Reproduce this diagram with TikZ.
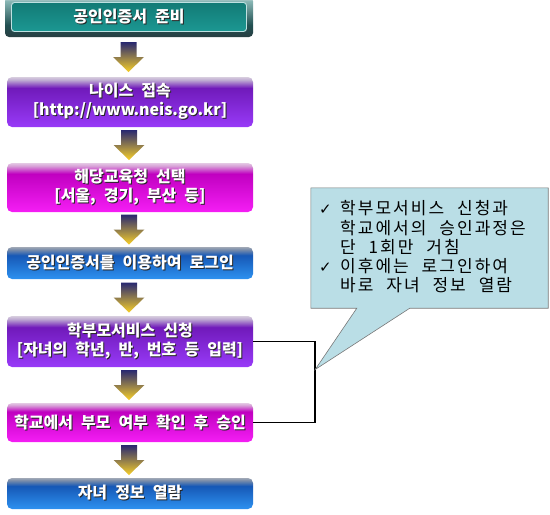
\documentclass[tikz,border=0pt]{standalone}
\usepackage{fontspec}
\setmainfont{Noto Sans CJK KR}
\newfontfamily\kb{Noto Sans CJK KR}[WordSpace=2.2]
\newfontfamily\kn{Noto Sans CJK KR}[LetterSpace=12,WordSpace=2.2]
\newfontfamily\dejav{DejaVu Sans}
\usetikzlibrary{calc}

\definecolor{pT}{RGB}{215,205,222}
\definecolor{pL}{RGB}{190,170,210}
\definecolor{pD}{RGB}{112,26,186}
\definecolor{pB}{RGB}{152,58,248}
\definecolor{mT}{RGB}{228,200,228}
\definecolor{mL}{RGB}{215,160,215}
\definecolor{mD}{RGB}{192,0,192}
\definecolor{mB}{RGB}{245,30,245}
\definecolor{uT}{RGB}{160,168,182}
\definecolor{uL}{RGB}{120,140,170}
\definecolor{uD}{RGB}{22,88,182}
\definecolor{uB}{RGB}{45,145,240}
\definecolor{tOT}{RGB}{215,222,222}
\definecolor{tOB}{RGB}{40,62,66}
\definecolor{tIT}{RGB}{18,122,118}
\definecolor{tIB}{RGB}{28,152,146}
\definecolor{tBd}{RGB}{190,225,225}
\definecolor{arN}{RGB}{40,40,112}
\definecolor{arM}{RGB}{190,160,70}
\definecolor{arG}{RGB}{248,208,40}
\definecolor{calfill}{RGB}{186,222,230}
\definecolor{calline}{RGB}{120,120,120}

\pgfdeclareverticalshading{pshade}{100bp}{color(0bp)=(pB); color(25bp)=(pB); color(64bp)=(pD); color(72bp)=(pL); color(75bp)=(pT); color(100bp)=(pT)}
\pgfdeclareverticalshading{mshade}{100bp}{color(0bp)=(mB); color(25bp)=(mB); color(64bp)=(mD); color(72bp)=(mL); color(75bp)=(mT); color(100bp)=(mT)}
\pgfdeclareverticalshading{ushade}{100bp}{color(0bp)=(uB); color(25bp)=(uB); color(62bp)=(uD); color(71bp)=(uL); color(75bp)=(uT); color(100bp)=(uT)}
\pgfdeclareverticalshading{toshade}{100bp}{color(0bp)=(tOB); color(25bp)=(tOB); color(40bp)=(tOB!70!tIT); color(70bp)=(tOT!60!tIT); color(75bp)=(tOT); color(100bp)=(tOT)}
\pgfdeclareverticalshading{tishade}{100bp}{color(0bp)=(tIB); color(25bp)=(tIB); color(75bp)=(tIT); color(100bp)=(tIT)}

\newcommand\shd[1]{\makebox[0pt][l]{\kern1pt\raisebox{-1pt}{\textcolor{black!85}{#1}}}#1}
\newcommand\ck{\makebox[21pt][l]{\dejav\fontsize{15}{15}\selectfont ✓}}
\newcommand\ind{\hspace*{21pt}}

\tikzset{
  box/.style={rounded corners=5pt, minimum width=246pt, inner sep=0pt,
    text=white, align=center, font=\kb\bfseries\fontsize{16}{19}\selectfont},
  darrow/.pic={\shade[top color=arN, middle color=arM, bottom color=arG]
    (-8,-15) -- (8,-15) -- (8,0) -- (15.5,0) -- (0,15) -- (-15.5,0) -- (-8,0) -- cycle;},
  bracket/.style={line width=1.8pt, black},
  notetxt/.style={inner sep=0pt, align=left, font=\kn\fontsize{17}{19.3}\selectfont, text=black},
}

\begin{document}
\begin{tikzpicture}[x=1pt,y=-1pt]
\useasboundingbox (0,0) rectangle (550,515);

% box 1 (teal, framed)
\node[rounded corners=4pt, minimum width=248pt, minimum height=40pt, inner sep=0pt,
      shade, shading=toshade] (b1) at (129,17) {};
\node[box, rounded corners=3pt, minimum width=235pt, minimum height=29pt,
      shade, shading=tishade, draw=tBd, line width=0.9pt] (b1t) at (b1.center) {\shd{공인인증서 준비}};

\node[box, shade, shading=pshade, minimum height=50pt] (b2) at (130,102)
  {\shd{나이스 접속}\\\shd{[http://www.neis.go.kr]}};
\node[box, shade, shading=mshade, minimum height=49pt] (b3) at (130,187.5)
  {\shd{해당교육청 선택}\\\shd{[서울, 경기, 부산 등]}};
\node[box, shade, shading=ushade, minimum height=32pt] (b4) at (130,263)
  {\shd{공인인증서를 이용하여 로그인}};
\node[box, shade, shading=pshade, minimum height=51pt] (b5) at (130,341.5)
  {\shd{학부모서비스 신청}\\\shd{[자녀의 학년, 반, 번호 등 입력]}};
\node[box, shade, shading=mshade, minimum height=39pt] (b6) at (130,422.5)
  {\shd{학교에서 부모 여부 확인 후 승인}};
\node[box, shade, shading=ushade, minimum height=31pt] (b7) at (130,493.5)
  {\shd{자녀 정보 열람}};

% block arrows
\pic at ($(b1.south)!0.5!(b2.north)+(-1,0)$) {darrow};
\pic at ($(b2.south)!0.5!(b3.north)+(-1,0)$) {darrow};
\pic at ($(b3.south)!0.5!(b4.north)+(-1,0)$) {darrow};
\pic at ($(b4.south)!0.5!(b5.north)+(-1,0)$) {darrow};
\pic at ($(b5.south)!0.5!(b6.north)+(-1,0)$) {darrow};
\pic at ($(b6.south)!0.5!(b7.north)+(-1,0)$) {darrow};

% bracket
\draw[bracket] (b5.east) -- ++(62,0) coordinate (bk) |- (b6.east);
\coordinate (tip) at ($(bk)+(0,28)$);

% callout
\node[minimum width=237pt, minimum height=120pt, inner sep=0pt] (note) at (429.5,248) {};
\draw[fill=calfill, draw=calline, line width=0.6pt]
  (note.north west) -- (note.north east) -- (note.south east)
  -- ($(note.south west)+(99,0)$) -- (tip) -- ($(note.south west)+(46,0)$)
  -- (note.south west) -- cycle;
\node[notetxt, anchor=west] (nt) at (319,247)
  {\ck 학부모서비스 신청과\\\ind 학교에서의 승인과정은\\\ind 단 1회만 거침\\\ck 이후에는 로그인하여\\\ind 바로 자녀 정보 열람};
\end{tikzpicture}
\end{document}
